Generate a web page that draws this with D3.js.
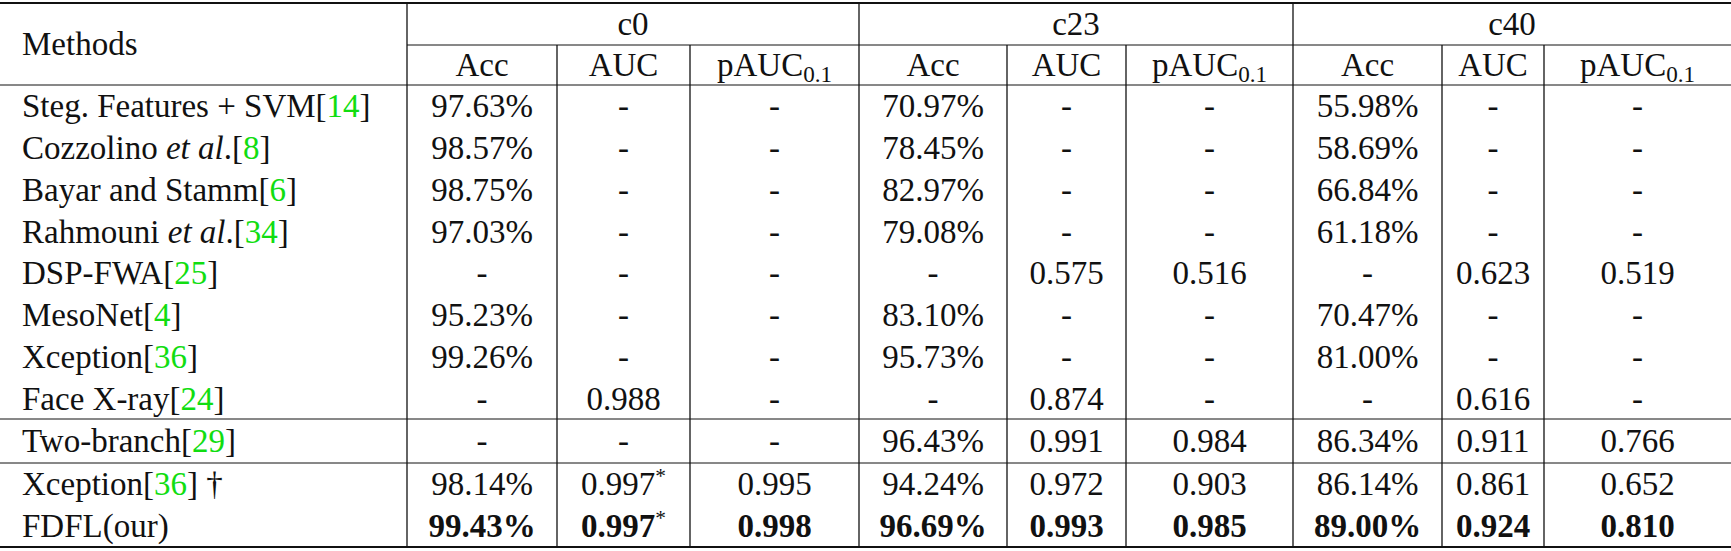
<!DOCTYPE html>
<html>
<head>
<meta charset="utf-8" />
<style>
  body { margin: 0; background: #fff; }
  svg text { font-family: "Liberation Serif", "DejaVu Serif", serif; fill: #111; }
</style>
<script src="https://d3js.org/d3.v7.min.js"></script>
</head>
<body>
<svg id="tbl"></svg>
<script>
// groups and sub-columns
let groups = ["c0", "c23", "c40"];
let metrics = ["Acc", "AUC", "pAUC"];

// method names: [text with |italic| parts, ref, suffix]
let methods = [
  ["Steg. Features + SVM", "14"],
  ["Cozzolino |et al|.", "8"],
  ["Bayar and Stamm", "6"],
  ["Rahmouni |et al|.", "34"],
  ["DSP-FWA", "25"],
  ["MesoNet", "4"],
  ["Xception", "36"],
  ["Face X-ray", "24"],
  ["Two-branch", "29"],
  ["Xception", "36", " \u2020"],
  ["FDFL(our)", ""]
];

let values = [
  ["97.63%", "-", "-", "70.97%", "-", "-", "55.98%", "-", "-"],
  ["98.57%", "-", "-", "78.45%", "-", "-", "58.69%", "-", "-"],
  ["98.75%", "-", "-", "82.97%", "-", "-", "66.84%", "-", "-"],
  ["97.03%", "-", "-", "79.08%", "-", "-", "61.18%", "-", "-"],
  ["-", "-", "-", "-", "0.575", "0.516", "-", "0.623", "0.519"],
  ["95.23%", "-", "-", "83.10%", "-", "-", "70.47%", "-", "-"],
  ["99.26%", "-", "-", "95.73%", "-", "-", "81.00%", "-", "-"],
  ["-", "0.988", "-", "-", "0.874", "-", "-", "0.616", "-"],
  ["-", "-", "-", "96.43%", "0.991", "0.984", "86.34%", "0.911", "0.766"],
  ["98.14%", "0.997*", "0.995", "94.24%", "0.972", "0.903", "86.14%", "0.861", "0.652"],
  ["99.43%", "0.997*", "0.998", "96.69%", "0.993", "0.985", "89.00%", "0.924", "0.810"]
];
let boldRow = 10;

let W = 1731, H = 551;
let svg = d3.select("#tbl").attr("width", W).attr("height", H);

let colEdges = [0, 407, 557, 690, 859, 1007, 1126, 1293, 1442, 1544, 1731];
let rowEdges = [3, 45, 85, 127, 169, 211, 252, 294, 336, 378, 419, 463, 505, 547];
let fs = 33;
let green = "#11dd11";

// horizontal rules
let hl = [[3, 0, 2], [45, 407, 1], [85, 0, 1], [419, 0, 1], [463, 0, 1], [547, 0, 2]];
svg.selectAll("line.h").data(hl).enter().append("line")
  .attr("x1", d => d[1]).attr("x2", W)
  .attr("y1", d => d[0]).attr("y2", d => d[0])
  .attr("stroke", "#111").attr("stroke-width", d => d[2]);

// vertical rules
let vl = colEdges.slice(1, -1).map((x, i) => ({ x: x, full: (i % 3 === 0) }));
svg.selectAll("line.v").data(vl).enter().append("line")
  .attr("x1", d => d.x).attr("x2", d => d.x)
  .attr("y1", d => d.full ? 3 : 45).attr("y2", 547)
  .attr("stroke", "#111").attr("stroke-width", 1.3);

function mid(i) { return (rowEdges[i] + rowEdges[i + 1]) / 2 + fs * 0.34; }

// header
svg.append("text").attr("x", 22).attr("y", (3 + 85) / 2 + fs * 0.34)
  .attr("font-size", fs).text("Methods");
groups.forEach((g, i) => {
  svg.append("text").attr("x", (colEdges[1 + i * 3] + colEdges[4 + i * 3]) / 2)
    .attr("y", mid(0)).attr("text-anchor", "middle").attr("font-size", fs).text(g);
  metrics.forEach((m, j) => {
    let c = 1 + i * 3 + j;
    let t = svg.append("text").attr("x", (colEdges[c] + colEdges[c + 1]) / 2)
      .attr("y", mid(1)).attr("text-anchor", "middle").attr("font-size", fs);
    t.append("tspan").text(m);
    if (m === "pAUC") t.append("tspan").attr("font-size", fs * 0.7).attr("dy", 6).text("0.1");
  });
});

// body
methods.forEach((m, r) => {
  let y = mid(r + 2);
  let t = svg.append("text").attr("x", 22).attr("y", y).attr("font-size", fs);
  m[0].split("|").forEach((part, k) => {
    t.append("tspan").attr("font-style", k % 2 ? "italic" : "normal").text(part);
  });
  if (m[1]) {
    t.append("tspan").text("[");
    t.append("tspan").style("fill", green).text(m[1]);
    t.append("tspan").text("]");
  }
  if (m[2]) t.append("tspan").text(m[2]);

  values[r].forEach((v, c) => {
    let vt = svg.append("text").attr("x", (colEdges[c + 1] + colEdges[c + 2]) / 2)
      .attr("y", y).attr("text-anchor", "middle").attr("font-size", fs)
      .attr("font-weight", r === boldRow ? "bold" : "normal");
    if (v.endsWith("*")) {
      vt.append("tspan").text(v.slice(0, -1));
      vt.append("tspan").attr("font-size", fs * 0.65).attr("dy", -12)
        .attr("font-weight", "normal").text("*");
    } else {
      vt.text(v);
    }
  });
});
</script>
</body>
</html>
